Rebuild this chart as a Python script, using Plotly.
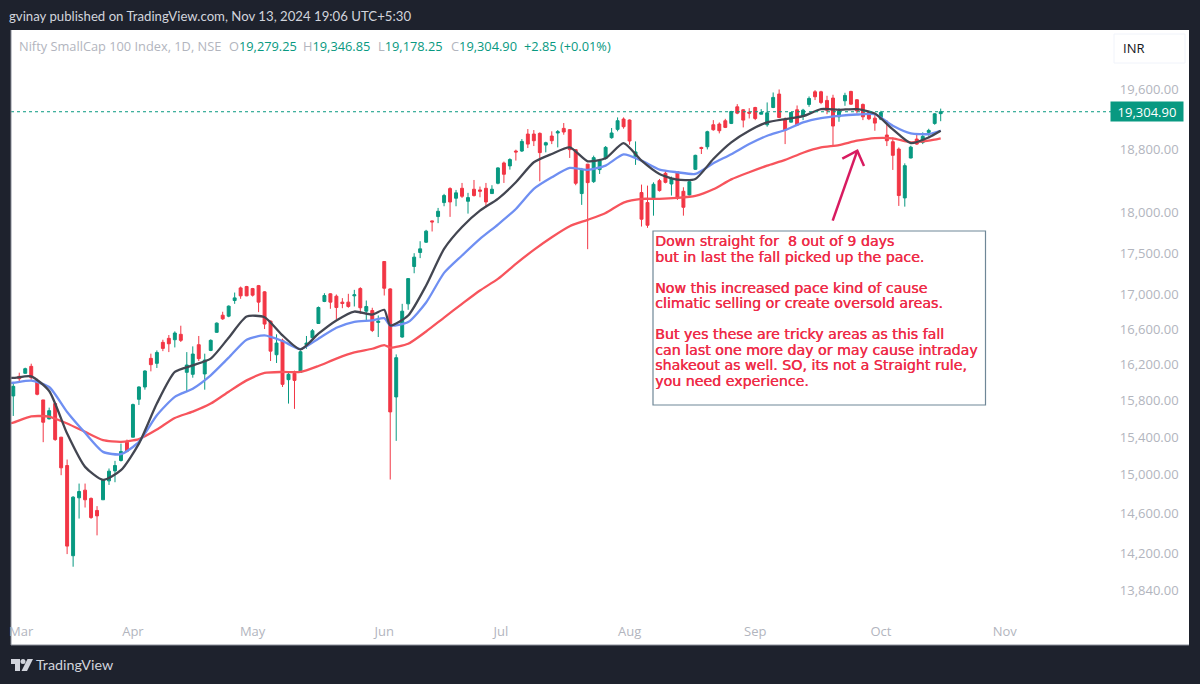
import math

import plotly.graph_objects as go

# daily bars
opens = [
    15846, 16063, 16097, 16175, 16018, 15802, 15595, 15762, 15398, 15098,
    14181, 14763, 14842, 14757, 14634, 14743, 14938, 15042, 15151, 15345,
    15398, 15809, 15945, 16265, 16209, 16447, 16493, 16477, 16539, 16108,
    16086, 16420, 16090, 16355, 16562, 16760, 16749, 16932, 17081, 17097,
    17073, 17108, 17034, 16691, 16306, 16470, 16026, 16097, 16108, 16420,
    16500, 16664, 16921, 17011, 16983, 16913, 16913, 16987, 17073, 16807,
    16815, 16676, 17397, 17069, 15835, 16508, 16893, 17337, 17506, 17632,
    17895, 17949, 18124, 18301, 18179, 18305, 18141, 18293, 18284, 18305,
    18238, 18369, 18630, 18592, 18785, 18785, 19008, 19008, 19017, 18863,
    18982, 19022, 19083, 19066, 18803, 18238, 18614, 18390, 18544, 18687,
    18960, 19070, 19207, 19194, 18717, 18251, 18124, 18166, 18402, 18497,
    18360, 18518, 18267, 18221, 18548, 18832, 18841, 19131, 19140, 19184,
    19149, 19371, 19331, 19299, 19362, 19272, 19131, 19362, 19543, 19206,
    19166, 19331, 19241, 19403, 19574, 19574, 19457, 19489, 19237, 19452,
    19579, 19466, 19403, 19295, 19219, 19206, 18995, 18907, 18810, 18183,
    18694, 18942, 18898, 19030, 19149, 19279.25,
]
highs = [
    16000, 16104, 16160, 16205, 16037, 15802, 15718, 15762, 15402, 15161,
    14780, 14910, 14910, 14767, 14678, 14952, 15067, 15147, 15330, 15373,
    15762, 15952, 16131, 16318, 16355, 16477, 16531, 16573, 16638, 16336,
    16401, 16520, 16318, 16481, 16676, 16800, 16874, 17026, 17097, 17105,
    17081, 17116, 17042, 16699, 16539, 16489, 16112, 16127, 16355, 16520,
    16600, 16862, 17018, 17018, 17003, 16960, 17011, 17058, 17089, 16932,
    16847, 16757, 17401, 17077, 16310, 16893, 17196, 17498, 17644, 17784,
    17899, 18057, 18234, 18318, 18284, 18373, 18247, 18411, 18327, 18373,
    18344, 18574, 18648, 18691, 18803, 18942, 19074, 19061, 19030, 18907,
    19044, 19061, 19154, 19074, 18807, 18566, 18618, 18725, 18682, 18850,
    19088, 19229, 19229, 19202, 18911, 18352, 18339, 18381, 18424, 18531,
    18454, 18522, 18318, 18419, 18737, 18841, 19052, 19193, 19162, 19210,
    19317, 19407, 19340, 19353, 19371, 19340, 19430, 19565, 19606, 19228,
    19295, 19389, 19344, 19511, 19597, 19588, 19520, 19534, 19353, 19561,
    19588, 19475, 19416, 19308, 19272, 19317, 19193, 18964, 18832, 18625,
    18854, 19008, 19030, 19078, 19286, 19346.85,
]
lows = [
    15627, 16011, 16093, 16026, 15853, 15345, 15591, 15359, 14997, 14197,
    14073, 14552, 14664, 14549, 14383, 14743, 14896, 14924, 15140, 15238,
    15398, 15747, 15915, 16119, 16157, 16347, 16336, 16389, 16451, 15897,
    16048, 16235, 15915, 16347, 16558, 16706, 16737, 16893, 16952, 16983,
    16979, 16796, 16600, 16235, 16213, 15945, 15762, 15704, 16108, 16374,
    16489, 16661, 16913, 16835, 16714, 16842, 16847, 16862, 16776, 16699,
    16565, 16508, 16991, 14952, 15359, 16500, 16823, 17256, 17438, 17623,
    17764, 17867, 18078, 17945, 18078, 18183, 17986, 18200, 18191, 18065,
    18234, 18356, 18373, 18544, 18661, 18773, 18824, 18850, 18394, 18768,
    18876, 18833, 18999, 18695, 18344, 18095, 17547, 18373, 18488, 18674,
    18947, 19044, 19079, 18867, 18605, 17825, 17809, 17960, 18263, 18368,
    18213, 18158, 17960, 18213, 18540, 18746, 18806, 19052, 19017, 19087,
    19140, 19272, 19096, 19215, 19193, 19272, 19105, 19353, 19219, 18876,
    19162, 19118, 19193, 19371, 19462, 19407, 19272, 18863, 19171, 19385,
    19398, 19281, 19193, 19193, 19052, 19193, 18850, 18540, 18082, 18073,
    18690, 18867, 18876, 18986, 19131, 19178.25,
]
closes = [
    15952, 16037, 16149, 16048, 15864, 15559, 15685, 15373, 15074, 14276,
    14770, 14828, 14743, 14562, 14579, 14945, 15039, 15098, 15245, 15249,
    15751, 15945, 16123, 16194, 16332, 16378, 16431, 16554, 16470, 16190,
    16314, 16262, 16246, 16470, 16668, 16718, 16866, 16963, 16987, 16987,
    16995, 16913, 16657, 16347, 16439, 15974, 16086, 16018, 16340, 16439,
    16580, 16850, 16991, 16913, 16850, 16897, 16862, 16999, 16847, 16862,
    16584, 16691, 17077, 15671, 16273, 16807, 17192, 17450, 17551, 17768,
    17883, 18015, 18213, 18132, 18247, 18204, 18187, 18213, 18268, 18132,
    18293, 18566, 18484, 18674, 18773, 18911, 18876, 18920, 18764, 18894,
    18920, 19039, 19035, 18803, 18369, 18549, 18377, 18699, 18661, 18833,
    19022, 19185, 19105, 18916, 18773, 17916, 17841, 18356, 18276, 18381,
    18424, 18179, 18065, 18389, 18729, 18819, 19039, 19065, 19052, 19096,
    19308, 19286, 19193, 19286, 19215, 19295, 19290, 19498, 19228, 19061,
    19295, 19127, 19326, 19484, 19507, 19430, 19326, 19114, 19313, 19525,
    19407, 19317, 19237, 19210, 19153, 19295, 18920, 18729, 18213, 18595,
    18836, 18876, 18977, 19056, 19277, 19304.90,
]
days = list(range(len(opens)))

# moving averages, read every few bars
ma_days = [
    -1, 0, 3, 6, 9, 12, 15, 18, 21, 24, 27, 30, 33, 36, 39, 42, 45, 48, 51, 54, 57, 60, 62, 63, 66,
    69, 72, 75, 78, 81, 84, 87, 90, 93, 96, 99, 102, 105, 108, 111, 114, 117, 120, 123, 126, 129,
    132, 135, 138, 141, 144, 147, 150, 153, 155,
]
ma_black = [
    16050, 16045, 16063, 15901, 15437, 15084, 14948, 15049, 15330, 15762, 16112, 16186, 16262,
    16500, 16745, 16737, 16527, 16366, 16546, 16699, 16803, 16768, 16823, 16641, 16757,
    17110, 17551, 17820, 18023, 18171, 18382, 18639, 18747, 18833, 18652, 18691, 18889, 18660,
    18488, 18415, 18424, 18681, 18898, 19052, 19162, 19206,
    19245, 19340, 19331, 19340, 19281, 19070, 18889, 18964, 19052,
]
ma_blue = [
    15990, 15992, 16015, 15945, 15671, 15445, 15242, 15217, 15348, 15634, 15835, 15926, 16075,
    16273, 16477, 16527, 16462, 16370, 16489, 16615, 16684, 16699, 16726, 16641, 16680,
    16909, 17260, 17470, 17673, 17850, 18044, 18297, 18445, 18566, 18540, 18596, 18742, 18660,
    18544, 18510, 18488, 18625, 18744, 18876, 18986, 19061,
    19162, 19219, 19250, 19268, 19272, 19118, 19017, 19008, 19052,
]
ma_red = [
    15540, 15555, 15623, 15620, 15545, 15455, 15366, 15348, 15377, 15480, 15605, 15674, 15762,
    15893, 16018, 16101, 16112, 16112, 16179, 16262, 16332, 16374, 16416, 16386, 16431,
    16572, 16733, 16893, 17050, 17188, 17369, 17538, 17693, 17829, 17908, 17994, 18124, 18171,
    18171, 18183, 18208, 18292, 18419, 18510, 18595, 18669,
    18763, 18832, 18863, 18920, 18955, 18951, 18898, 18920, 18951,
]

price_ticks = [19600, 18800, 18000, 17500, 17000, 16600, 16200, 15800, 15400, 15000, 14600, 14200, 13840]
month_labels = ["Apr", "May", "Jun", "Jul", "Aug", "Sep", "Oct", "Nov"]
month_days = [20, 40, 62, 81.5, 103, 124, 145, 165.7]

note_lines = [
    "Down straight for  8 out of 9 days",
    "but in last the fall picked up the pace.",
    "",
    "Now this increased pace kind of cause",
    "climatic selling or create oversold areas.",
    "",
    "But yes these are tricky areas as this fall",
    "can last one more day or may cause intraday",
    "shakeout as well. SO, its not a Straight rule,",
    "you need experience.",
]

GREEN = "#089981"
RED = "#f23645"
GRAY = "#b2b5be"
FRAME = "#1e222d"
NOTE_RED = "#ee2b47"
UI_FONT = "Open Sans"

# white chart area in page pixels
LEFT, RIGHT, TOP, BOTTOM = 11, 1189, 30, 645


def px(x):
    return (x - LEFT) / (RIGHT - LEFT)


def py(y):
    return 1 - (y - TOP) / (BOTTOM - TOP)


def page_text(x, y, text, color, size=13, family=UI_FONT, **kw):
    return dict(xref="paper", yref="paper", x=px(x), y=py(y), text=text, showarrow=False,
                xanchor=kw.pop("xanchor", "left"), yanchor="middle",
                font=dict(color=color, size=size, family=family, shadow=kw.pop("shadow", "none")), **kw)


def page_path(points, **kw):
    path = "M" + " L".join(f"{px(a):.5f},{py(b):.5f}" for a, b in points)
    return dict(type="path", xref="paper", yref="paper", path=path, **kw)


fig = go.Figure()
fig.add_trace(go.Candlestick(
    x=days, open=opens, high=highs, low=lows, close=closes, whiskerwidth=0,
    increasing=dict(fillcolor=GREEN, line=dict(color=GREEN, width=1)),
    decreasing=dict(fillcolor=RED, line=dict(color=RED, width=1)),
))
for values, color in [(ma_red, "#f7545c"), (ma_blue, "#6f8ff2"), (ma_black, "#434651")]:
    fig.add_trace(go.Scatter(x=ma_days, y=values, mode="lines",
                             line=dict(color=color, width=2.3, shape="spline", smoothing=0.6)))

shapes = [
    # last price line
    dict(type="line", xref="paper", yref="y", x0=0, x1=px(1111), y0=closes[-1], y1=closes[-1],
         line=dict(color=GREEN, width=1, dash="dot")),
    # note box
    dict(type="rect", xref="paper", yref="paper", x0=px(653), x1=px(985.5), y0=py(231), y1=py(405),
         fillcolor="white", line=dict(color="#6f8797", width=1.2)),
    # INR button
    dict(type="rect", xref="paper", yref="paper", x0=px(1114), x1=px(1185), y0=py(34), y1=py(63),
         fillcolor="white", line=dict(color="#f0f3fa", width=1)),
    # arrow
    page_path([(832.7, 220.7), (857.3, 150.7)], line=dict(color="#d81b60", width=2.5)),
    page_path([(842.3, 158.7), (857.3, 150.7), (864, 166)], line=dict(color="#d81b60", width=2.5)),
    # edge of the chart area
    page_path([(11, 30), (11, 645), (1189, 645)], line=dict(color="#8a8e99", width=1)),
    # TradingView mark
    page_path([(11, 659), (20, 659), (20, 671), (15, 671), (15, 664), (11, 664), (11, 659)],
              fillcolor="#d1d4dc", line=dict(width=0)),
    page_path([(27.5, 659), (33, 659), (27, 671), (21.5, 671), (27.5, 659)],
              fillcolor="#d1d4dc", line=dict(width=0)),
    dict(type="circle", xref="paper", yref="paper", x0=px(20.5), x1=px(25.5), y0=py(659), y1=py(664),
         fillcolor="#d1d4dc", line=dict(width=0)),
]

annotations = [
    page_text(10, 16, "gvinay published on TradingView.com, Nov 13, 2024 19:06 UTC+5:30", "#d1d4dc",
              size=13.2, family="Lato", xshift=-3),
    page_text(20, 46, "Nifty SmallCap 100 Index, 1D, NSE", GRAY, size=12.8, xshift=-3),
    page_text(230, 46, f'O<span style="color:{GREEN}">19,279.25</span>', GRAY, size=12.8, xshift=-3),
    page_text(304, 46, f'H<span style="color:{GREEN}">19,346.85</span>', GRAY, size=12.8, xshift=-3),
    page_text(379, 46, f'L<span style="color:{GREEN}">19,178.25</span>', GRAY, size=12.8, xshift=-3),
    page_text(452, 46, f'C<span style="color:{GREEN}">19,304.90</span>', GRAY, size=12.8, xshift=-3),
    page_text(525, 46, "+2.85 (+0.01%)", GREEN, size=12.8, xshift=-3),
    page_text(1124, 48, "INR", "#131722", xshift=-3),
    page_text(10, 631, "Mar", GRAY, xshift=-3),
    dict(xref="paper", yref="y", x=px(1147), y=math.log10(closes[-1]), text=f"{closes[-1]:,.2f}",
         showarrow=False, xanchor="center", yanchor="middle", bgcolor=GREEN, borderpad=2, width=68, height=15,
         font=dict(color="white", size=13, family=UI_FONT)),
    page_text(37, 664, "TradingView", "#d1d4dc", size=14.3, family="Lato", xshift=-3),
]
for i, line in enumerate(note_lines):
    if line:
        annotations.append(page_text(656, 241 + i * 15.55, line, NOTE_RED, size=14.2, family="DejaVu Sans",
                                     xshift=-3, shadow=f"0.4px 0 0 {NOTE_RED}"))

fig.update_layout(
    width=1200,
    height=684,
    margin=dict(l=LEFT, r=1200 - RIGHT, t=TOP, b=684 - BOTTOM, pad=0),
    paper_bgcolor=FRAME,
    plot_bgcolor="white",
    showlegend=False,
    shapes=shapes,
    annotations=annotations,
    xaxis=dict(
        range=[-0.38, 196.5], rangeslider=dict(visible=False), showgrid=False, zeroline=False,
        tickmode="array", tickvals=month_days, ticktext=month_labels, ticklabelposition="inside",
        ticks="inside", ticklen=6, tickcolor="rgba(0,0,0,0)",
        tickfont=dict(color=GRAY, size=13, family=UI_FONT),
    ),
    yaxis=dict(
        type="log", range=[4.12477, 4.31033], side="right", showgrid=False, zeroline=False,
        tickmode="array", tickvals=price_ticks, ticktext=[f"{p:,.2f}" for p in price_ticks],
        ticklabelposition="inside", ticks="inside", ticklen=10, tickcolor="rgba(0,0,0,0)",
        tickfont=dict(color=GRAY, size=13, family=UI_FONT),
    ),
)

fig.write_html("out.html", post_script="document.body.style.margin='0';", config={"displayModeBar": False})
